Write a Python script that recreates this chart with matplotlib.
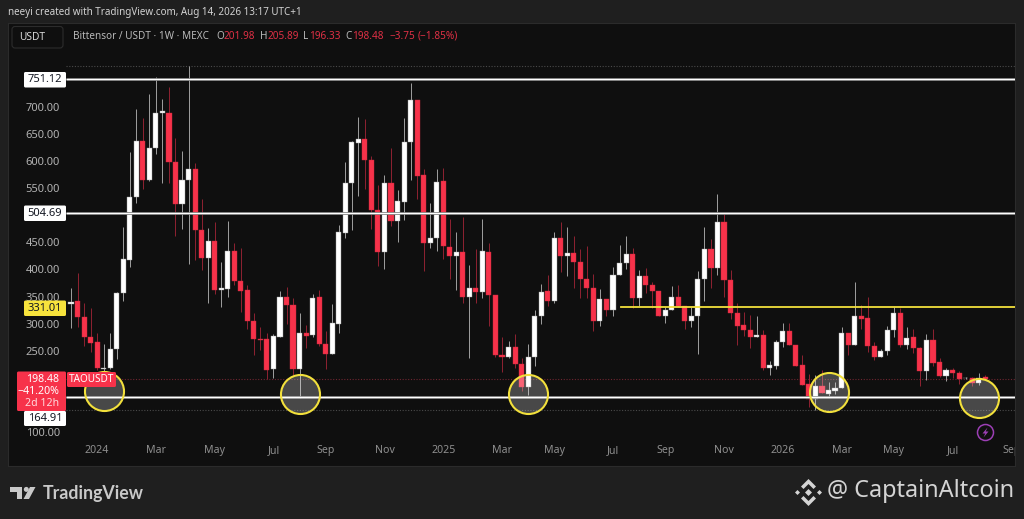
import matplotlib
matplotlib.use("Agg")
import matplotlib.pyplot as plt
from matplotlib.patches import Rectangle, FancyBboxPatch, Polygon, Circle

plt.rcParams['font.family'] = ['Noto Sans', 'DejaVu Sans']

# weekly candles
opens = [337,341,313,275,266,217,218,253,357,418,534,637,566,624,688,689,598,520,565,585,
         473,421,453,362,364,434,379,362,305,272,271,216,275,350,334,216,283,279,349,263,
         244,300,468,559,634,640,603,510,432,560,490,525,635,712,574,449,458,563,442,425,
         432,349,365,358,433,353,243,239,256,226,183,238,315,360,342,459,424,431,413,382,
         365,304,346,325,389,412,428,348,388,371,360,314,325,350,333,305,314,382,438,403,
         488,380,320,298,288,275,279,219,222,266,286,261,223,188,161,184,171,176,181,282,
         261,315,310,259,238,250,288,320,261,275,255,213,270,229,204,214,209,199,199,191,201.98]
highs = [366,394,338,329,283,262,283,358,479,616,697,679,724,756,714,737,642,618,776,596,
         530,476,487,413,489,448,439,371,319,294,283,281,360,367,347,319,298,355,363,286,
         336,483,598,637,681,678,610,556,574,624,547,679,744,713,585,522,585,587,494,469,
         497,408,437,494,448,353,275,268,280,236,262,325,374,390,469,488,478,461,438,443,
         392,364,346,404,445,461,439,399,403,377,360,331,370,371,333,330,397,478,456,539,
         502,399,338,322,316,314,288,231,269,301,301,261,242,207,205,214,192,193,293,282,
         377,334,350,267,254,296,331,328,293,291,257,281,290,236,219,218,213,202,201,209,205.89]
lows = [292,294,259,248,214,209,216,235,341,405,523,549,563,613,560,560,462,475,410,418,
        399,338,354,330,350,371,322,291,242,251,198,199,275,299,205,162,255,275,259,216,
        244,282,459,472,536,549,475,407,401,481,450,491,565,530,398,440,434,419,382,362,
        338,237,338,347,296,239,211,236,219,176,168,222,299,333,339,396,388,366,347,347,
        287,296,315,315,389,401,328,333,356,328,314,302,325,331,290,294,244,342,366,389,
        350,309,261,278,255,275,214,205,216,257,261,222,187,147,141,172,164,171,181,242,
        261,291,248,233,238,242,276,257,253,245,184,196,222,201,195,199,189,197,184,187,196.33]
closes = [340,313,275,265,218,219,253,357,419,534,637,566,624,688,692,598,521,565,585,473,
          422,453,362,365,434,379,360,305,271,270,214,277,350,334,216,283,278,347,262,244,
          302,470,560,635,640,603,509,433,560,490,526,636,712,573,448,458,562,443,425,432,
          349,365,359,434,352,242,239,256,226,183,239,315,359,342,459,424,431,413,382,365,
          304,345,325,390,412,428,348,388,371,360,314,325,350,333,305,315,382,438,402,488,
          380,320,296,288,275,279,219,223,266,286,261,222,187,161,184,172,177,181,282,261,
          315,309,259,238,250,288,320,261,274,255,213,270,228,204,214,209,197,200,191,200,198.48]

price_ticks = [100,250,300,350,400,450,550,600,650,700]
date_ticks = [4,13,22,31,39,48,57,66,74,83,91,100,109,118,126,135,144]
date_labels = ['2024','Mar','May','Jul','Sep','Nov','2025','Mar','May','Jul','Sep','Nov',
               '2026','Mar','May','Jul','Sep']

white_levels = [751.12, 504.69, 164.91]
yellow_level = 331.01
last_price = 198.48
high_marker = 776
low_marker = 141
circle_idx = [5, 35, 70, 116, 139]
circle_val = [176, 170, 170, 173, 162]

BG = '#1f1f1f'
PANEL = '#0f0f0f'
GREY = '#b2b2b2'

fig = plt.figure(figsize=(10.24, 5.19), dpi=100, facecolor=BG)
ax = fig.add_axes([8/1024, 1-466/519, (1015-8)/1024, (466-23)/519], facecolor=PANEL)
ax.set_xlim(-9.65, 144.56)
ax.set_ylim(37.2, 855)
for s in ax.spines.values():
    s.set_color('#2b2b2b')
    s.set_linewidth(0.8)

x = list(range(len(opens)))
for i in x:
    up = closes[i] >= opens[i]
    ax.vlines(i, lows[i], highs[i], color='#a0a0a0' if up else '#8f2232', lw=0.7, zorder=2)
    bottom = min(opens[i], closes[i])
    ax.bar(i, abs(closes[i]-opens[i]), bottom=bottom, width=0.78, zorder=3,
           color='white' if up else '#f7324a', edgecolor='#999999' if up else '#c92a3e', linewidth=0.3)

left = -0.77
right = 144.56
ax.plot([left, right], [high_marker]*2, color='#4a4a4a', lw=0.8, ls=(0, (1, 1.5)), zorder=1)
ax.plot([left, right], [low_marker]*2, color='#4a4a4a', lw=0.8, ls=(0, (1, 1.5)), zorder=1)
ax.plot([left, right], [last_price]*2, color='#6e2530', lw=0.8, ls=(0, (1, 1.5)), zorder=1)
for lev in white_levels:
    ax.plot([left, right], [lev, lev], color='#707070', lw=2.0, zorder=4, solid_capstyle='butt')
    ax.plot([left, right], [lev, lev], color='white', lw=1.0, zorder=4, solid_capstyle='butt')
ax.plot([84.3, right], [yellow_level]*2, color='#f2e03c', lw=1.3, zorder=4)

ax.scatter(circle_idx, circle_val, s=790, facecolor=(1, 1, 1, 0.24), edgecolor='#f2e03c',
           linewidth=1.5, zorder=6)

# axis labels sit inside the panel like on the TradingView chart
ax.set_yticks(price_ticks)
ax.set_yticklabels(['%.2f' % p for p in price_ticks])
ax.tick_params(axis='y', length=0, pad=-37.5, labelsize=8, labelcolor=GREY)
ax.set_xticks(date_ticks)
ax.set_xticklabels(date_labels)
ax.tick_params(axis='x', length=0, pad=-15, labelsize=7.6, labelcolor='#8f8f8f')

# overlay in pixel coordinates for labels, header and footer
ov = fig.add_axes([0, 0, 1, 1], zorder=5)
ov.set_xlim(0, 1024)
ov.set_ylim(519, 0)
ov.axis('off')


def label_box(x0, y0, x1, y1, color, txt, tcolor, size=8):
    ov.add_patch(FancyBboxPatch((x0, y0), x1-x0, y1-y0, boxstyle='round,pad=0,rounding_size=1.5',
                                fc=color, ec='none'))
    ov.text((x0+x1)/2, (y0+y1)/2, txt, color=tcolor, fontsize=size, ha='center', va='center')


label_box(24, 72, 66, 87.5, 'white', '751.12', '#131722')
label_box(24, 205.5, 66, 221, 'white', '504.69', '#131722')
label_box(24, 300.5, 66, 316, '#f7e33c', '331.01', '#131722')
label_box(24, 411, 66, 426, 'white', '164.91', '#131722')
label_box(67, 372, 116, 387, '#f7324a', 'TAOUSDT', 'white', size=7.2)
ov.add_patch(FancyBboxPatch((17, 371.5), 49, 39.5, boxstyle='round,pad=0,rounding_size=1.5',
                            fc='#f7324a', ec='none'))
ov.text(59, 379.5, '198.48', color='white', fontsize=7.6, ha='right', va='center')
ov.text(59, 391.5, '\u221241.20%', color='white', fontsize=7.6, ha='right', va='center')
ov.text(59, 403.5, '2d 12h', color='#ffd9dd', fontsize=7.6, ha='right', va='center')

# header
ov.text(8, 13, 'neeyi created with TradingView.com, Aug 14, 2026 13:17 UTC+1', color='#d2d2d2',
        fontsize=7.1, va='center')
ov.add_patch(FancyBboxPatch((12, 26.5), 51, 21.5, boxstyle='round,pad=0,rounding_size=3',
                            fc='none', ec='#2c2c2c', lw=0.8))
ov.text(32, 37.5, 'USDT', color='#d8d8d8', fontsize=7.3, ha='center', va='center')
ov.text(73, 36.5, 'Bittensor / USDT \u00b7 1W \u00b7 MEXC', color='#b8b8b8', fontsize=7.2, va='center')
hdr_red = '#e03045'
for px, txt, col in [(216, 'O', '#b8b8b8'), (223, '201.98', hdr_red), (260, 'H', '#b8b8b8'),
                     (267, '205.89', hdr_red), (303.5, 'L', '#b8b8b8'), (309, '196.33', hdr_red),
                     (345.5, 'C', '#b8b8b8'), (352.5, '198.48', hdr_red),
                     (389, '\u22123.75', hdr_red), (418, '(\u22121.85%)', hdr_red)]:
    ov.text(px, 36.5, txt, color=col, fontsize=7.2, va='center')

# strip right of the panel hides the cut Sep label
ov.add_patch(Rectangle((1015.5, 23), 9, 445, fc=BG, ec='none'))

# lightning badge
ov.add_patch(Circle((985.5, 432.5), 8, fc='none', ec='#9c3fb5', lw=1.1))
ov.add_patch(Polygon([(987.5, 427.5), (982.5, 433.5), (985.3, 433.5), (983.5, 437.5),
                      (988.5, 431.5), (985.7, 431.5)], fc='#9c3fb5', ec='none'))

# TradingView logo
logo = '#c9c9c9'
ov.add_patch(Polygon([(10, 487), (22, 487), (22, 499), (16.5, 499), (16.5, 492), (10, 492)], fc=logo, ec='none'))
ov.add_patch(Circle((26.3, 489.4), 2.5, fc=logo, ec='none'))
ov.add_patch(Polygon([(30, 487), (35.5, 487), (29, 499), (23.5, 499)], fc=logo, ec='none'))
ov.text(42.5, 493, 'TradingView', color=logo, fontsize=12.8, va='center', family='Lato', fontweight='bold')

# Binance mark + watermark
wm = '#d4d4d4'
cx, cy = 808.5, 492.5
ov.add_patch(Polygon([(cx, cy-3.5), (cx+3.5, cy), (cx, cy+3.5), (cx-3.5, cy)], fc=wm, ec='none'))
ov.add_patch(Polygon([(cx-13.5, cy), (cx-11, cy-2.5), (cx-8.5, cy), (cx-11, cy+2.5)], fc=wm, ec='none'))
ov.add_patch(Polygon([(cx+13.5, cy), (cx+11, cy-2.5), (cx+8.5, cy), (cx+11, cy+2.5)], fc=wm, ec='none'))
ov.add_patch(Polygon([(cx, cy-13.5), (cx+7.5, cy-6), (cx+5, cy-3.5), (cx, cy-8.5), (cx-5, cy-3.5), (cx-7.5, cy-6)],
                     fc=wm, ec='none'))
ov.add_patch(Polygon([(cx, cy+13.5), (cx+7.5, cy+6), (cx+5, cy+3.5), (cx, cy+8.5), (cx-5, cy+3.5), (cx-7.5, cy+6)],
                     fc=wm, ec='none'))
ov.text(827, 491, '@ CaptainAltcoin', color=wm, fontsize=16.9, va='center')

fig.savefig('out.png', dpi=100, facecolor=BG)
